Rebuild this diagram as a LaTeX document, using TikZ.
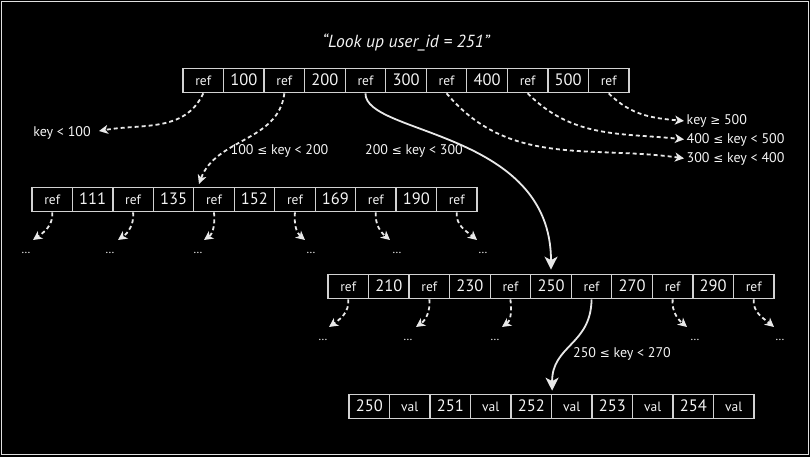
\documentclass[tikz,border=0pt]{standalone}
\usepackage{fontspec}
\setmainfont{PT Sans}
\newfontfamily\symfont{DejaVu Sans}
\newcommand{\lek}{{\symfont\fontsize{12}{13}\selectfont ≤}}
\newcommand{\gek}{{\symfont\fontsize{12}{13}\selectfont ≥}}
\usetikzlibrary{arrows.meta}
\definecolor{fg}{HTML}{F4F4F4}
\definecolor{boxc}{HTML}{D2D2D2}
\definecolor{linec}{HTML}{E8E8E8}
\definecolor{framec}{HTML}{E0E0E0}
\begin{document}
\begin{tikzpicture}[x=1pt,y=-1pt,
  cell/.style={draw=boxc,line width=1.2pt,minimum width=40.5pt,minimum height=24.5pt,inner sep=0pt,text=fg,text height=10.5pt,text depth=0pt},
  wtext/.style={font=\fontsize{13.5}{13.5}\selectfont},
  ntext/.style={font=\fontsize{16.5}{16.5}\selectfont},
  lbl/.style={text=fg,font=\fontsize{14}{15}\selectfont,inner sep=1.5pt},
  dotlbl/.style={text=fg,font=\fontsize{12}{12}\selectfont,inner sep=0pt},
  dasharrow/.style={draw=linec,line width=1.8pt,dash pattern=on 4pt off 3pt,-{Stealth[length=9pt,width=9pt,inset=2.5pt]}},
  solidarrow/.style={draw=linec,line width=1.8pt,-{Stealth[length=13pt,width=13pt,inset=3.5pt]}}
]
\useasboundingbox (0,0) rectangle (810,457);
\fill[black] (0,0) rectangle (810,457);
\draw[framec,line width=1pt] (1.5,1.5) rectangle (808.5,454.5);

\node[text=fg,font=\fontsize{17.5}{17.5}\selectfont\itshape] (title) at (406,42) {“Look up user\_id = 251”};

% rows
\foreach \t/\s [count=\i] in {ref/wtext,100/ntext,ref/wtext,200/ntext,ref/wtext,300/ntext,ref/wtext,400/ntext,ref/wtext,500/ntext,ref/wtext}
  \node[cell,\s] (t\i) at ({183+40.545*(\i-0.5)},80.5) {\t};
\foreach \t/\s [count=\i] in {ref/wtext,111/ntext,ref/wtext,135/ntext,ref/wtext,152/ntext,ref/wtext,169/ntext,ref/wtext,190/ntext,ref/wtext}
  \node[cell,\s] (a\i) at ({32+40.45*(\i-0.5)},199.5) {\t};
\foreach \t/\s [count=\i] in {ref/wtext,210/ntext,ref/wtext,230/ntext,ref/wtext,250/ntext,ref/wtext,270/ntext,ref/wtext,290/ntext,ref/wtext}
  \node[cell,\s] (m\i) at ({328+40.545*(\i-0.5)},286.5) {\t};
\foreach \t/\s [count=\i] in {250/ntext,val/wtext,251/ntext,val/wtext,252/ntext,val/wtext,253/ntext,val/wtext,254/ntext,val/wtext}
  \node[cell,\s] (f\i) at ({349+40.5*(\i-0.5)},406.5) {\t};

% labels
\node[lbl] (k1) at (62,133) {key < 100};
\node[lbl] (k2) at (279.5,151) {100 \lek{} key < 200};
\node[lbl] (k3) at (414,151) {200 \lek{} key < 300};
\node[lbl,anchor=west] (k4) at (685,121) {key \gek{} 500};
\node[lbl,anchor=west] (k5) at (685,139.5) {400 \lek{} key < 500};
\node[lbl,anchor=west] (k6) at (685,158.5) {300 \lek{} key < 400};
\node[lbl] (k7) at (622,354) {250 \lek{} key < 270};

% top-level connectors
\coordinate (e1) at (99,131);
\draw[dasharrow] (t1.south) to[out=-115,in=10] (e1);
\coordinate (e2) at (199,184);
\draw[dasharrow] (t3.south) to[out=-97,in=70] (e2);
\draw[solidarrow,shorten >=4pt] (t5.south) .. controls (365,135) and (551,130) .. (m6.north);
\draw[dasharrow,shorten >=1pt] (t7.south) to[out=-50,in=172] (k6.west);
\draw[dasharrow,shorten >=1pt] (t9.south) to[out=-45,in=174] (k5.west);
\draw[dasharrow,shorten >=1pt] (t11.south) to[out=-45,in=175] (k4.west);

% level-2 left children
\coordinate (la1) at (33,240);
\coordinate (la3) at (118,240);
\coordinate (la5) at (204,240);
\coordinate (la7) at (305,240);
\coordinate (la9) at (390,240);
\coordinate (la11) at (477,240);
\foreach \i in {1,3,5}
  \draw[dasharrow] (a\i.south) to[out=-85,in=35] (la\i);
\foreach \i in {7,9,11}
  \draw[dasharrow] (a\i.south) to[out=-95,in=140] (la\i);
\node[dotlbl] (d1) at (26,253) {…};
\node[dotlbl] (d2) at (110,253) {…};
\node[dotlbl] (d3) at (198,253) {…};
\node[dotlbl] (d4) at (311,253) {…};
\node[dotlbl] (d5) at (397,253) {…};
\node[dotlbl] (d6) at (483,253) {…};

% middle row children
\coordinate (ma1) at (329,327);
\coordinate (ma3) at (416,327);
\coordinate (ma5) at (502,327);
\coordinate (ma9) at (687,327);
\coordinate (ma11) at (774,327);
\foreach \i in {1,3,5}
  \draw[dasharrow] (m\i.south) to[out=-85,in=35] (ma\i);
\foreach \i in {9,11}
  \draw[dasharrow] (m\i.south) to[out=-95,in=140] (ma\i);
\node[dotlbl] (d7) at (323,340) {…};
\node[dotlbl] (d8) at (408,340) {…};
\node[dotlbl] (d9) at (495,340) {…};
\node[dotlbl] (d10) at (695,340) {…};
\node[dotlbl] (d11) at (780,340) {…};

\draw[solidarrow,shorten >=3pt] (m7.south) .. controls (591,345) and (552,345) .. (f5.north east);
\end{tikzpicture}
\end{document}
